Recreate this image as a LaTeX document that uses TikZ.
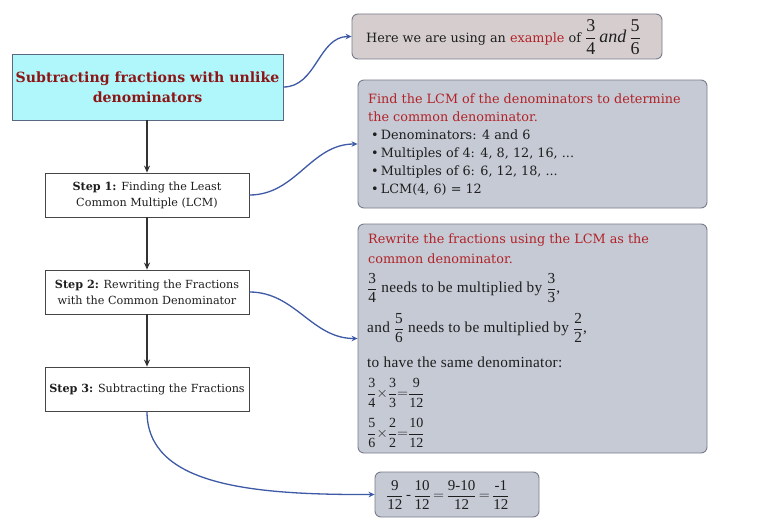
\documentclass[tikz,border=0pt]{standalone}
\usepackage{amsmath}
\usepackage{fontspec}
\setmainfont{DejaVu Serif}
\newfontfamily\tnr{Liberation Serif}
\newfontfamily\tnrs[LetterSpace=2.0]{Liberation Serif}
\usetikzlibrary{arrows.meta}
\definecolor{titlefill}{RGB}{176,247,252}
\definecolor{titleborder}{RGB}{90,105,130}
\definecolor{titletxt}{RGB}{140,22,22}
\definecolor{redtxt}{RGB}{178,34,40}
\definecolor{stepborder}{RGB}{70,70,70}
\definecolor{exfill}{RGB}{214,206,206}
\definecolor{infofill}{RGB}{197,202,212}
\definecolor{infoborder}{RGB}{120,124,140}
\definecolor{connblue}{RGB}{62,90,166}
\definecolor{flowgrey}{RGB}{50,50,50}
\definecolor{bodytxt}{RGB}{30,30,30}
\newcommand{\fr}[2]{$\dfrac{\text{\tnr #1}}{\text{\tnr #2}}$}
\begin{document}
\begin{tikzpicture}[x=1pt,y=1pt,
  titlebox/.style={draw=titleborder, fill=titlefill, line width=0.8pt, minimum width=271pt, minimum height=66pt, align=center, inner sep=0pt, text=titletxt, font=\fontsize{14.1}{20}\selectfont\bfseries},
  stepbox/.style={draw=stepborder, fill=white, line width=0.8pt, minimum width=204pt, minimum height=44pt, align=center, inner sep=0pt, text=bodytxt, font=\fontsize{11.2}{16}\selectfont},
  infobox/.style={draw=infoborder, fill=infofill, rounded corners=6pt, line width=0.9pt, inner sep=0pt},
  conn/.style={draw=connblue, line width=1.3pt, -{Stealth[length=6pt,width=5.5pt]}},
  flow/.style={draw=flowgrey, line width=1.2pt, -{Stealth[length=7pt,width=6pt]}},
  txt/.style={anchor=west, inner sep=0pt, text=bodytxt, font=\fontsize{12.8}{17}\selectfont},
  tline/.style={anchor=west, inner sep=0pt, text=bodytxt, font=\fontsize{15.3}{18}\selectfont\tnrs},
  redline/.style={txt, text=redtxt},
]
\useasboundingbox (0,0) rectangle (768,-527);
\fill[white] (0,0) rectangle (768,-527);

% left column
\node[titlebox] (title) at (147.5,-87) {Subtracting fractions with unlike\\denominators};
\node[stepbox] (s1) at (147,-195) {\textbf{Step 1:} Finding the Least\\Common Multiple (LCM)};
\node[stepbox] (s2) at (147,-292) {\textbf{Step 2:} Rewriting the Fractions\\with the Common Denominator};
\node[stepbox] (s3) at (147,-389) {\textbf{Step 3:} Subtracting the Fractions};

\draw[flow] (title.south -| s1.north) -- (s1.north);
\draw[flow] (s1.south) -- (s2.north);
\draw[flow] (s2.south) -- (s3.north);

% right column boxes
\node[infobox, fill=exfill, minimum width=310pt, minimum height=45pt] (exbox) at (507,-36.5) {};
\node[infobox, minimum width=349pt, minimum height=128pt] (lcmbox) at (532.5,-144) {};
\node[infobox, minimum width=349pt, minimum height=229pt] (rwbox) at (532.5,-338.5) {};
\node[infobox, minimum width=164pt, minimum height=45pt] (resbox) at (457,-494.5) {};

% example text
\node[txt, font=\fontsize{12.8}{18}\selectfont] (ex) at (366,-37) {Here we are using an \textcolor{redtxt}{example} of {\fontsize{18}{20}\selectfont\fr{3}{4}\,{\tnr\itshape and}\,\fr{5}{6}}};

% LCM text
\node[redline] (l1) at (368,-99) {Find the LCM of the denominators to determine};
\node[redline] (l2) at (368,-117) {the common denominator.};
\node[txt] (b1) at (371,-135) {\textbullet\,Denominators: 4 and 6};
\node[txt] (b2) at (371,-153.5) {\textbullet\,Multiples of 4: 4, 8, 12, 16, ...};
\node[txt] (b3) at (371,-172) {\textbullet\,Multiples of 6: 6, 12, 18, ...};
\node[txt] (b4) at (371,-190) {\textbullet\,LCM(4, 6) = 12};

% rewrite text
\node[redline] (r1) at (368,-240) {Rewrite the fractions using the LCM as the};
\node[redline] (r2) at (368,-259) {common denominator.};
\node[tline] (r3) at (367,-288) {\fr{3}{4} needs to be multiplied by \fr{3}{3},};
\node[tline] (r4) at (367,-328) {and \fr{5}{6} needs to be multiplied by \fr{2}{2},};
\node[tline] (r5) at (367,-362) {to have the same denominator:};
\node[tline, font=\fontsize{14}{16}\selectfont\tnr] (r6) at (367,-393) {\fr{3}{4}$\times$\fr{3}{3}$=$\fr{9}{12}};
\node[tline, font=\fontsize{14}{16}\selectfont\tnr] (r7) at (367,-433) {\fr{5}{6}$\times$\fr{2}{2}$=$\fr{10}{12}};

% result
\node[tline, font=\fontsize{15}{17}\selectfont\tnr] (res) at (386,-495) {\fr{9}{12}$\,\text{-}\,$\fr{10}{12}$\,=\,$\fr{9-10}{12}$\,=\,$\fr{-1}{12}};

% connectors
\draw[conn] (title.east) to[out=0,in=180] (exbox.west);
\draw[conn] (s1.east) to[out=0,in=180] (lcmbox.west);
\draw[conn] (s2.east) to[out=0,in=180] (rwbox.west);
\draw[conn] (s3.south) .. controls (147,-485) and (250,-495) .. (resbox.west);
\end{tikzpicture}
\end{document}
